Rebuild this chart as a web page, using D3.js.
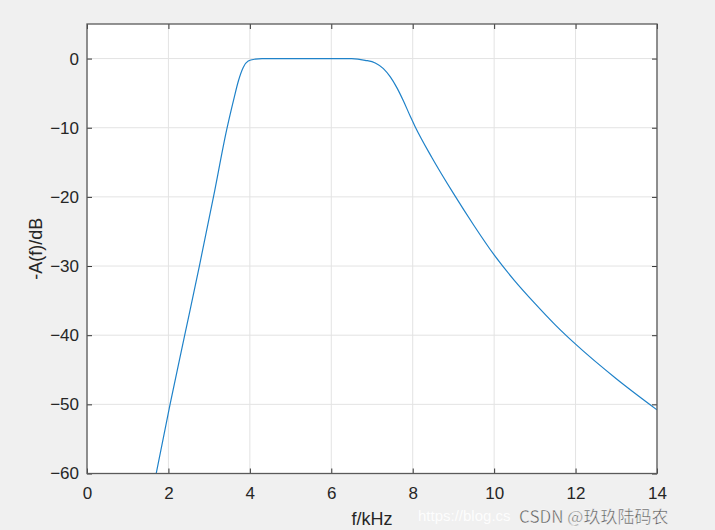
<!DOCTYPE html>
<html><head><meta charset="utf-8">
<script src="https://cdn.jsdelivr.net/npm/d3@7"></script>
<style>html,body{margin:0;padding:0;background:#f0f0f0;}svg{display:block;}</style>
</head><body>
<svg id="c" width="715" height="530"></svg>
<script>
const freq = [1.70, 2.04, 2.40, 2.76, 3.11, 3.43, 3.60, 3.72, 3.84, 3.96, 4.13, 4.3, 4.6, 5, 6, 6.5, 6.83, 7.08, 7.28, 7.45, 7.61, 7.77, 7.94, 8.06, 8.47, 9.0, 9.5, 10, 10.5, 11, 11.5, 12, 13, 14];
const atten = [-60, -50, -40, -30, -19.9, -10.3, -6.0, -3.2, -1.25, -0.35, -0.08, 0, 0, 0, 0, -0.02, -0.25, -0.63, -1.45, -2.65, -4.2, -6.1, -8.35, -9.85, -14.3, -19.5, -24.1, -28.4, -32.1, -35.4, -38.5, -41.3, -46.3, -50.8];
const xTicks = [0, 2, 4, 6, 8, 10, 12, 14];
const yTicks = [-60, -50, -40, -30, -20, -10, 0];
const xLabel = "f/kHz";
const yLabel = "-A(f)/dB";

const svg = d3.select("#c");
const L = 87, R = 657, T = 24, B = 473.5;
const x = d3.scaleLinear().domain([0, 14]).range([L, R]);
const y = d3.scaleLinear().domain([-60, 5]).range([B, T]);
const font = "'Liberation Sans', Arial, sans-serif";

svg.append("rect").attr("x", L).attr("y", T).attr("width", R - L).attr("height", B - T).attr("fill", "#fff");

// grid
const g = svg.append("g");
g.selectAll(".gx").data(xTicks).join("line")
  .attr("x1", d => x(d)).attr("x2", d => x(d)).attr("y1", T).attr("y2", B)
  .attr("stroke", "#e3e3e3").attr("stroke-width", 1);
g.selectAll(".gy").data(yTicks).join("line")
  .attr("y1", d => y(d)).attr("y2", d => y(d)).attr("x1", L).attr("x2", R)
  .attr("stroke", "#e3e3e3").attr("stroke-width", 1);

// curve
const pts = freq.map((f, i) => [f, atten[i]]);
svg.append("clipPath").attr("id", "clip").append("rect").attr("x", L).attr("y", T).attr("width", R - L).attr("height", B - T);
svg.append("path").datum(pts)
  .attr("clip-path", "url(#clip)")
  .attr("d", d3.line().x(d => x(d[0])).y(d => y(d[1])).curve(d3.curveMonotoneX))
  .attr("fill", "none").attr("stroke", "#1f82c9").attr("stroke-width", 1.2);

// axes
const axCol = "#5a5a5a";
const axB = svg.append("g").attr("transform", `translate(0,${B})`)
  .call(d3.axisBottom(x).tickValues(xTicks).tickSize(-5).tickPadding(13).tickFormat(d3.format("d")));
const axT = svg.append("g").attr("transform", `translate(0,${T})`)
  .call(d3.axisTop(x).tickValues(xTicks).tickSize(-5).tickFormat(""));
const axL = svg.append("g").attr("transform", `translate(${L},0)`)
  .call(d3.axisLeft(y).tickValues(yTicks).tickSize(-5).tickPadding(8).tickFormat(d3.format("d")));
const axR = svg.append("g").attr("transform", `translate(${R},0)`)
  .call(d3.axisRight(y).tickValues(yTicks).tickSize(-5).tickFormat(""));
[axB, axT, axL, axR].forEach(a => {
  a.select(".domain").remove();
  a.selectAll(".tick line").attr("stroke", "#333");
  a.selectAll("text").attr("fill", "#262626").attr("font-family", font).attr("font-size", 17);
});
svg.append("rect").attr("x", L).attr("y", T).attr("width", R - L).attr("height", B - T)
  .attr("fill", "none").attr("stroke", axCol).attr("stroke-width", 1.3);

svg.append("text").attr("x", (L + R) / 2).attr("y", 525).attr("text-anchor", "middle")
  .attr("font-family", font).attr("font-size", 18).attr("fill", "#262626").text(xLabel);
svg.append("text").attr("transform", `translate(42,${(T + B) / 2}) rotate(-90)`).attr("text-anchor", "middle")
  .attr("font-family", font).attr("font-size", 18).attr("fill", "#262626").text(yLabel);

// watermark
svg.append("text").attr("x", 418).attr("y", 521).attr("font-family", font).attr("font-size", 15)
  .attr("fill", "#ffffff").attr("opacity", 0.9).text("https://blog.cs");
svg.append("text").attr("x", 519).attr("y", 523).attr("font-family", "'Noto Sans CJK SC', sans-serif").attr("font-size", 17)
  .attr("fill", "#5a5a5a").attr("stroke", "#ffffff").attr("stroke-width", 0.4).text("CSDN @玖玖陆码农");
</script>
</body></html>
